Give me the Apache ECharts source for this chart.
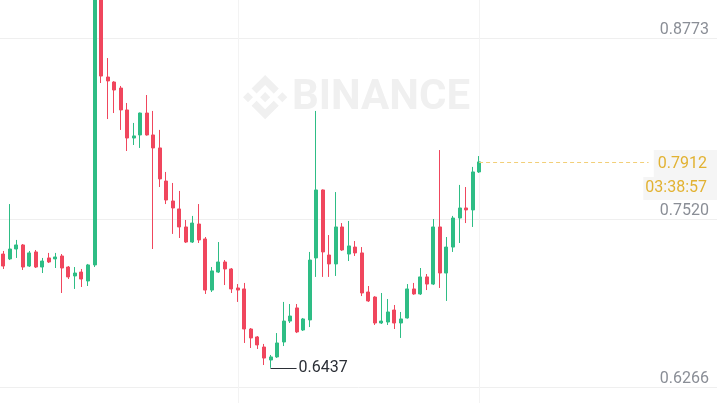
<!DOCTYPE html>
<html><head><meta charset="utf-8">
<script src="https://cdn.jsdelivr.net/npm/echarts@6/dist/echarts.min.js"></script>
<style>html,body{margin:0;padding:0;background:#fff}#c{width:719px;height:403px}</style>
</head><body><div id="c"></div>
<script>
const opens  = [0.7252,0.7217,0.7288,0.7317,0.7166,0.7267,0.7159,0.7224,0.7217,0.7238,0.7159,0.7095,0.7123,0.7059,0.7174,0.9180,0.8520,0.8484,0.8441,0.8284,0.8083,0.8105,0.8262,0.8105,0.8012,0.7775,0.7632,0.7575,0.7446,0.7338,0.7467,0.7360,0.6994,0.7123,0.7195,0.7145,0.7009,0.7002,0.6715,0.6658,0.6586,0.6493,0.6515,0.6622,0.6772,0.6866,0.6708,0.6780,0.7224,0.7711,0.7245,0.7181,0.7446,0.7252,0.7302,0.7260,0.6980,0.6944,0.6758,0.6765,0.6851,0.6758,0.6794,0.7002,0.6966,0.7088,0.7037,0.7446,0.7116,0.7302,0.7510,0.7582,0.7568,0.7840];
const closes = [0.7166,0.7288,0.7317,0.7159,0.7260,0.7159,0.7202,0.7195,0.7231,0.7152,0.7088,0.7116,0.7073,0.7174,0.9180,0.8527,0.8492,0.8427,0.8284,0.8083,0.8098,0.8262,0.8105,0.8012,0.7790,0.7639,0.7582,0.7446,0.7338,0.7474,0.7353,0.6994,0.7131,0.7195,0.7145,0.7002,0.6994,0.6715,0.6651,0.6601,0.6507,0.6515,0.6615,0.6772,0.6808,0.6694,0.6787,0.7209,0.7711,0.7267,0.7181,0.7446,0.7281,0.7310,0.7260,0.6973,0.6916,0.6758,0.6772,0.6837,0.6758,0.6787,0.7002,0.6966,0.7088,0.7037,0.7446,0.7116,0.7302,0.7510,0.7582,0.7568,0.7840,0.7912];
const lows   = [0.7145,0.7209,0.7224,0.7138,0.7159,0.7152,0.7116,0.7188,0.7152,0.6973,0.7073,0.7002,0.7016,0.7023,0.7159,0.8477,0.8219,0.8262,0.8141,0.7990,0.8033,0.8012,0.8100,0.7288,0.7732,0.7610,0.7396,0.7367,0.7331,0.7331,0.7331,0.6966,0.6980,0.7116,0.7030,0.6973,0.6909,0.6615,0.6579,0.6572,0.6457,0.6437,0.6508,0.6593,0.6758,0.6686,0.6701,0.6729,0.7088,0.7088,0.7088,0.7095,0.7275,0.7202,0.7238,0.6951,0.6909,0.6744,0.6751,0.6744,0.6715,0.6651,0.6790,0.6960,0.6959,0.6994,0.7030,0.7009,0.6916,0.7267,0.7331,0.7474,0.7446,0.7833];
const highs  = [0.7274,0.7610,0.7353,0.7324,0.7274,0.7281,0.7224,0.7260,0.7260,0.7252,0.7166,0.7159,0.7145,0.7181,0.9300,0.9250,0.8656,0.8490,0.8456,0.8334,0.8191,0.8265,0.8391,0.8277,0.8141,0.7840,0.7761,0.7704,0.7496,0.7525,0.7610,0.7374,0.7159,0.7338,0.7209,0.7152,0.7037,0.7045,0.6722,0.6665,0.6608,0.6529,0.6686,0.6909,0.6894,0.6894,0.6794,0.7267,0.8277,0.7715,0.7388,0.7696,0.7474,0.7489,0.7345,0.7302,0.7023,0.6950,0.6973,0.6930,0.6887,0.6837,0.7037,0.7045,0.7152,0.7109,0.7503,0.7997,0.7374,0.7525,0.7747,0.7732,0.7876,0.7954];
const yTicks = [0.8773, 0.7520, 0.6266];
const countdown = '03:38:57';
const watermark = 'BINANCE';

const totalSlots = 110;
const categories = opens.map((_, i) => 'K' + (i + 1));
const axisCats = categories.concat(Array.from({length: totalSlots - categories.length}, (_, i) => 'F' + (i + 1)));
const candles = opens.map((o, i) => [o, closes[i], lows[i], highs[i]]);
const last = candles.length - 1;
const lastClose = closes[last];
const minLow = Math.min(...lows);
const minIdx = lows.indexOf(minLow);

const UP = '#2ebd85', DOWN = '#f0465d', GOLD = '#e2b232';
const FONT = 'Roboto';
const HIDDEN = {color: 'rgba(0,0,0,0)', width: 0};

const logoPolys = [
  [[38.73,53.2],[63.32,28.62],[87.92,53.22],[102.22,38.91],[63.32,0],[24.43,38.89]],
  [[0,63.31],[14.3,49],[28.61,63.31],[14.3,77.61]],
  [[38.73,73.41],[63.32,98],[87.92,73.4],[102.23,87.69],[63.33,126.6],[24.42,87.72]],
  [[98.01,63.31],[112.31,49],[126.62,63.3],[112.31,77.62]],
  [[77.83,63.3],[63.32,48.78],[48.81,63.3],[63.32,77.81]]
];

const chart = echarts.init(document.getElementById('c'), null, {renderer: 'canvas'});
chart.setOption({
  animation: false,
  backgroundColor: '#ffffff',
  grid: {left: -2.4, right: 2, top: 0, bottom: 0, containLabel: false},
  xAxis: {type: 'category', data: axisCats, show: false, boundaryGap: true},
  yAxis: {type: 'value', min: 0.61850, max: 0.90717, show: false},
  graphic: [
    {type: 'group', x: 243, y: 75, scaleX: 0.35, scaleY: 0.35, z: 0, silent: true,
     children: logoPolys.map(p => ({type: 'polygon', shape: {points: p}, style: {fill: '#f0f0f0'}}))},
    {type: 'text', x: 292, y: 98, z: 0, silent: true,
     style: {text: watermark, fill: '#f0f0f0', font: 'bold 42px Roboto', textAlign: 'left', textVerticalAlign: 'middle'}}
  ],
  series: [
    {
      type: 'line', data: [], z: 1, silent: true,
      markLine: {
        silent: true, symbol: ['none', 'none'], z: 1, animation: false,
        data: yTicks.map(v => ({
          yAxis: v,
          lineStyle: {color: '#efefef', type: 'solid', width: 1},
          label: {show: true, position: 'insideEndTop', formatter: v.toFixed(4), color: '#8a8e96',
                  fontSize: 16, fontFamily: FONT, distance: [8, 0]}
        })).concat([36, 73].map(i => ({
          xAxis: axisCats[i],
          lineStyle: {color: '#f3f3f3', type: 'solid', width: 1},
          label: {show: false}
        })))
      }
    },
    {
      type: 'candlestick', data: candles, barWidth: 3.5, clip: true, z: 2,
      itemStyle: {color: UP, color0: DOWN, borderColor: UP, borderColor0: DOWN, borderWidth: 1},
      markLine: {
        silent: true, symbol: ['none', 'none'], animation: false, z: 5,
        data: [
          [{coord: [categories[last], lastClose]}, {coord: [axisCats[99], lastClose],
            lineStyle: {color: '#f2cf78', type: [4, 3], width: 1}, label: {show: false}}],
          [{coord: [categories[minIdx], minLow]}, {coord: [axisCats[minIdx + 4], minLow],
            lineStyle: {color: '#2b2f36', type: 'solid', width: 1},
            label: {show: true, position: 'end', distance: 2, formatter: minLow.toFixed(4),
                    color: '#2b2f36', fontSize: 16, fontFamily: FONT}}],
          {yAxis: lastClose, lineStyle: HIDDEN,
           label: {show: true, position: 'insideEnd', distance: [0, 0], formatter: lastClose.toFixed(4),
                   color: GOLD, fontSize: 16, fontFamily: FONT, backgroundColor: '#f5f5f5',
                   padding: [4, 10, 4, 4], lineHeight: 19}},
          {yAxis: lastClose + 1e-9, lineStyle: HIDDEN,
           label: {show: true, position: 'insideEndBottom', distance: [0, 13.5], formatter: countdown,
                   color: GOLD, fontSize: 16, fontFamily: FONT, backgroundColor: '#f5f5f5',
                   padding: [1, 10, 3, 2], lineHeight: 19}}
        ]
      }
    }
  ]
});
</script>
</body></html>
